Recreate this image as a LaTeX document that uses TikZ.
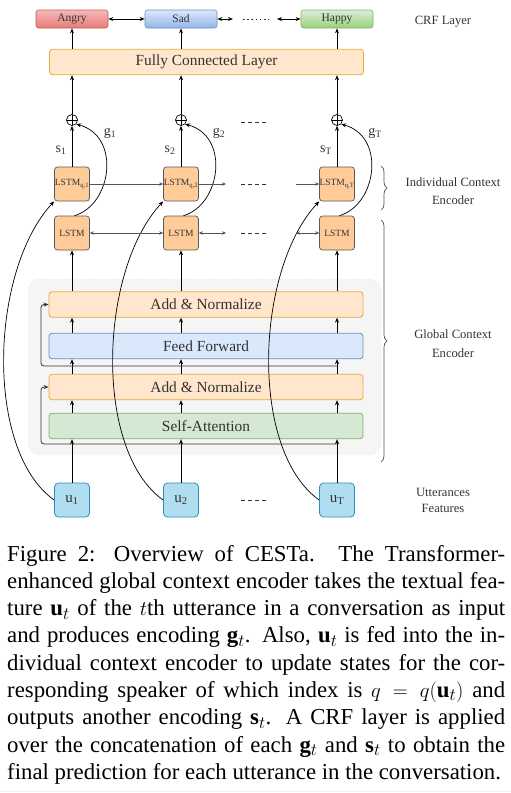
\documentclass[tikz,border=0pt]{standalone}
\usepackage{fontspec}
\setmainfont{Liberation Serif}
\usepackage{amsmath}
\usetikzlibrary{arrows.meta,positioning,calc,decorations.pathreplacing}

\definecolor{txt}{HTML}{333333}
\definecolor{rdtop}{HTML}{F5B9B7}
\definecolor{rdbot}{HTML}{E57B79}
\definecolor{rdline}{HTML}{C25B58}
\definecolor{bltop}{HTML}{DCE9FC}
\definecolor{blbot}{HTML}{92B4E6}
\definecolor{blline}{HTML}{6C8EBF}
\definecolor{grtop}{HTML}{DBEDD9}
\definecolor{grbot}{HTML}{98D17A}
\definecolor{grline}{HTML}{82B366}
\definecolor{anfill}{HTML}{FFE6CC}
\definecolor{anline}{HTML}{E3AC3C}
\definecolor{fffill}{HTML}{DAE8FC}
\definecolor{ffline}{HTML}{6C8EBF}
\definecolor{safill}{HTML}{D5E8D4}
\definecolor{saline}{HTML}{82B366}
\definecolor{cellfill}{HTML}{FFCC99}
\definecolor{celline}{HTML}{5A5A5A}
\definecolor{ufill}{HTML}{B1DDF0}
\definecolor{uline}{HTML}{2F8FBF}
\definecolor{bgfill}{HTML}{F5F5F5}
\definecolor{bgline}{HTML}{C8C8C8}
\definecolor{sidegray}{HTML}{555555}

\begin{document}
\begin{tikzpicture}[x=1pt,y=-1pt,
    >={Stealth[length=5pt,width=4pt]},
    wide/.style={draw, rounded corners=3pt, line width=0.8pt, minimum width=314pt, minimum height=25.5pt, inner sep=0pt, text=txt, font=\fontsize{15.4}{17}\selectfont},
    addnorm/.style={wide, draw=anline, fill=anfill},
    crf/.style={draw=#1line, top color=#1top, bottom color=#1bot, rounded corners=2.5pt, line width=0.6pt, minimum width=72pt, minimum height=18pt, inner sep=0pt, text=txt, font=\fontsize{11.5}{12}\selectfont},
    cell/.style={draw=celline, fill=cellfill, rounded corners=3pt, line width=0.7pt, minimum width=35pt, minimum height=34pt, inner sep=0pt, text=txt, font=\fontsize{9.5}{10}\selectfont},
    utt/.style={draw=uline, fill=ufill, rounded corners=4pt, line width=0.8pt, minimum width=35pt, minimum height=34pt, inner sep=0pt, text=txt, font=\fontsize{15}{17}\selectfont},
    oplus/.style={draw, circle, minimum size=11pt, inner sep=0pt, line width=0.7pt,
        path picture={\draw[line width=0.7pt] (path picture bounding box.north) -- (path picture bounding box.south) (path picture bounding box.west) -- (path picture bounding box.east);}},
    flow/.style={->, line width=0.9pt},
    skipcurve/.style={->, line width=0.7pt},
    resid/.style={->, draw=txt, line width=0.8pt, rounded corners=3pt},
    side/.style={<->, draw=sidegray, line width=0.6pt, >={Stealth[length=4pt,width=3.5pt]}},
    sideto/.style={side, ->},
    dots/.style={line width=1pt, dash pattern=on 4pt off 3pt},
    lab/.style={text=txt, font=\fontsize{14}{16}\selectfont, inner sep=0pt},
    note/.style={align=center, text=txt, font=\fontsize{12.6}{18.5}\selectfont},
    capline/.style={anchor=base west, inner sep=0pt, font=\fontsize{22.8}{27.3}\selectfont},
]
\useasboundingbox (0,0) rectangle (511,793);

% Global context encoder background
\draw[draw=bgline, fill=bgfill, dotted, rounded corners=12pt] (28,279) rectangle (381,455);

% Wide layers
\node[wide, draw=anline, fill=anfill] (fc) at (206.5,62) {Fully Connected Layer};
\node[addnorm] (an1) at (206,304.5) {Add \& Normalize};
\node[wide, draw=ffline, fill=fffill] (ff) at (206,346) {Feed Forward};
\node[addnorm] (an2) at (206,387) {Add \& Normalize};
\node[wide, draw=saline, fill=safill] (sa) at (206,426) {Self-Attention};

% Columns
\foreach \x/\c/\txt/\tone in {72/1/Angry/rd, 181/2/Sad/bl, 337/T/Happy/gr} {
    \node[crf=\tone] (lab\c) at (\x,19) {\txt};
    \node[oplus] (plus\c) at (\x,120) {};
    \node[cell] (lstmq\c) at (\x,184) {LSTM\textsubscript{q,\c}};
    \node[cell] (lstm\c) at (\x,233) {LSTM};
    \node[utt] (u\c) at (\x,500) {u\textsubscript{\c}};
    \node[lab] (s\c) at ($(plus\c)+(-11,30)$) {s\textsubscript{\c}};
    \node[lab] (g\c) at ($(plus\c)+(38,13)$) {g\textsubscript{\c}};
    % upward flow
    \draw[flow] (u\c.north) -- (u\c.north |- sa.south);
    \draw[flow] (u\c.north |- sa.north) -- (u\c.north |- an2.south);
    \draw[flow] (u\c.north |- an2.north) -- (u\c.north |- ff.south);
    \draw[flow] (u\c.north |- ff.north) -- (u\c.north |- an1.south);
    \draw[flow] (u\c.north |- an1.north) -- (lstm\c.south);
    \draw[flow] (lstmq\c.north) -- (plus\c.south);
    \draw[flow] (plus\c.north) -- (plus\c |- fc.south);
    \draw[flow] (plus\c |- fc.north) -- (lab\c.south);
    % skip curves
    \draw[skipcurve] ([xshift=2.5pt]lstm\c.north) .. controls +(37.5,-11) and +(45,12) .. (plus\c.south east);
    \draw[skipcurve] (u\c.west) .. controls +(-70,-50) and +(-64,69) .. (lstmq\c.south west);
}

% Residual connections
\coordinate (res1) at (41,444);
\coordinate (res2) at (41,366);
\draw[resid] (uT.north |- res1) -- (res1) |- (an2.west);
\draw[resid] (uT.north |- res2) -- (res2) |- (an1.west);

% CRF links
\coordinate (ca) at (233,19);
\coordinate (cb) at (277,19);
\coordinate (cd1) at (243,19);
\coordinate (cd2) at (269,19);
\draw[<->, line width=0.9pt] (lab1) -- (lab2);
\draw[<->, line width=0.9pt] (lab2) -- (ca);
\draw[<->, line width=0.9pt] (cb) -- (labT);
\draw[line width=1pt, dash pattern=on 1.6pt off 2.6pt, draw=txt] (cd1) -- (cd2);

% LSTM rows
\coordinate (qa) at (226,184);
\coordinate (qb) at (296,184);
\coordinate (la) at (226,233);
\coordinate (lb) at (296,233);
\draw[sideto] (lstmq1) -- (lstmq2);
\draw[sideto] (lstmq2) -- (qa);
\draw[sideto] (qb) -- (lstmqT);
\draw[side] (lstm1) -- (lstm2);
\draw[side] (lstm2) -- (la);
\draw[side] (lb) -- (lstmT);

% Ellipsis dashes
\foreach \y/\n in {122/p, 184/q, 233/l, 500/u} {
    \coordinate (\n d1) at (241,\y);
    \coordinate (\n d2) at (268,\y);
    \draw[dots, draw=txt] (\n d1) -- (\n d2);
}

% Braces and side notes
\draw[decorate, decoration={brace, amplitude=6pt}, draw=sidegray, line width=0.7pt] (381,166) -- (381,210);
\draw[decorate, decoration={brace, amplitude=6pt}, draw=sidegray, line width=0.7pt] (381,220) -- (381,462);
\node[note] (crfnote) at (443,22) {CRF Layer};
\node[note] (icenote) at (453,191) {Individual Context\\Encoder};
\node[note] (gcenote) at (453,343.5) {Global Context\\Encoder};
\node[note, font=\fontsize{12.6}{16}\selectfont] (uttnote) at (443,500) {Utterances\\Features};

% Caption
\foreach \ln [count=\i] in {
    {Figure 2: Overview of CESTa. The Transformer-},
    {enhanced global context encoder takes the textual fea-},
    {ture $\mathbf{u}_t$ of the $t$th utterance in a conversation as input},
    {and produces encoding $\mathbf{g}_t$. Also, $\mathbf{u}_t$ is fed into the in-},
    {dividual context encoder to update states for the cor-},
    {responding speaker of which index is $q = q(\mathbf{u}_t)$ and},
    {outputs another encoding $\mathbf{s}_t$. A CRF layer is applied},
    {over the concatenation of each $\mathbf{g}_t$ and $\mathbf{s}_t$ to obtain the}}
    \node[capline] (cap\i) at (7,{561+(\i-1)*27.3}) {\makebox[498pt][s]{\ln}};
\node[capline] (cap9) at (7,{561+8*27.3}) {final prediction for each utterance in the conversation.};
\draw[gray!12, line width=0.8pt] (0,791) -- (511,791);
\end{tikzpicture}
\end{document}
